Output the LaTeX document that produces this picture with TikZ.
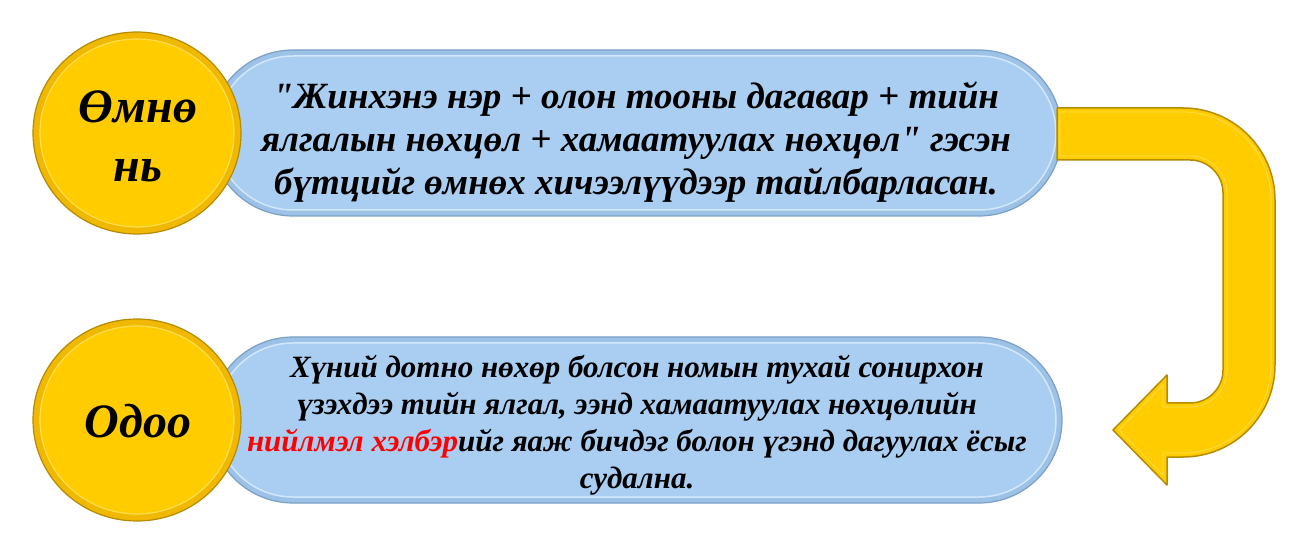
\documentclass[tikz,border=0pt]{standalone}
\usepackage{fontspec}
\setmainfont{Liberation Serif}[Ligatures=TeXOff]
\usetikzlibrary{shapes.geometric,shapes.misc}
\definecolor{pillfill}{HTML}{A9CEF2}
\definecolor{pilledge}{HTML}{7C9FC4}
\definecolor{pillring}{HTML}{9DC2E8}
\definecolor{pillhi}{HTML}{D2E7FA}
\definecolor{goldfill}{HTML}{FFCC00}
\definecolor{goldring}{HTML}{F0B800}
\definecolor{goldedge}{HTML}{B58B00}
\definecolor{goldhi}{HTML}{FFDD4D}
\definecolor{redtext}{HTML}{FF0000}
\begin{document}
\begin{tikzpicture}[x=1pt,y=-1pt,
  pillouter/.style={rounded rectangle, fill=pillring, draw=pilledge, line width=1.2pt,
    minimum width=852pt, minimum height=166pt, inner sep=0pt},
  pillinner/.style={rounded rectangle, fill=pillfill, draw=pillhi, line width=1.5pt,
    minimum width=840pt, minimum height=154pt, inner sep=0pt},
  coinouter/.style={ellipse, fill=goldring, draw=goldedge, line width=1.2pt,
    minimum width=208pt, minimum height=202pt, inner sep=0pt},
  coininner/.style={ellipse, fill=goldfill, draw=goldhi, line width=1.2pt,
    minimum width=194pt, minimum height=188pt, inner sep=0pt},
  cointext/.style={align=center, font=\fontsize{48}{59}\selectfont\bfseries\itshape, inner sep=0pt},
  toptext/.style={align=center, font=\fontsize{37}{43}\selectfont\bfseries\itshape, inner sep=0pt},
  bottext/.style={align=center, font=\fontsize{31}{37}\selectfont\bfseries\itshape, inner sep=0pt},
  bigarrow/.style={fill=goldfill, draw=goldedge, line width=1.5pt, line join=round},
  arrowhi/.style={draw=goldhi, line width=0.8pt, line join=round}
]
\useasboundingbox (0,0) rectangle (1302,553);

% pills
\node[pillouter] (toppill) at (636,133) {};
\node[pillinner] (toppillin) at (toppill.center) {};
\node[pillouter] (botpill) at (636,420) {};
\node[pillinner] (botpillin) at (botpill.center) {};

% U-shaped arrow from the top pill round to the bottom pill
\coordinate (arrstart) at (1057,108);
\coordinate (arrtip) at (1113,430);
\filldraw[bigarrow] (arrstart) [rounded corners=92pt] -- (1275,108) -- (1275,457)
  [sharp corners] -- (1167,457) -- (1167,485) -- (arrtip) -- (1167,375) -- (1167,403)
  [rounded corners=33pt] -- (1223,403) -- (1223,160) [sharp corners] -- (1057,160) -- cycle;
\draw[arrowhi] (1060,112) [rounded corners=88pt] -- (1271,112) -- (1271,453)
  [sharp corners] -- (1163,453) -- (1163,475) -- (1119,430) -- (1163,385) -- (1163,407)
  [rounded corners=37pt] -- (1227,407) -- (1227,156) [sharp corners] -- (1060,156) -- cycle;

% coins
\node[coinouter] (topcoin) at (137,133) {};
\node[coininner] (topcoinin) at (topcoin.center) {};
\node[coinouter] (botcoin) at (137,420) {};
\node[coininner] (botcoinin) at (botcoin.center) {};

\node[cointext] (toplabel) at (138,136) {Өмнө\\нь};
\node[cointext] (botlabel) at (138,421) {Одоо};

\node[toptext] (topbody) at (636,142) {"Жинхэнэ нэр + олон тооны дагавар + тийн\\ялгалын нөхцөл + хамаатуулах нөхцөл" гэсэн\\бүтцийг өмнөх хичээлүүдээр тайлбарласан.};
\node[bottext] (botbody) at (637,425) {Хүний дотно нөхөр болсон номын тухай сонирхон\\үзэхдээ тийн ялгал, ээнд хамаатуулах нөхцөлийн\\{\color{redtext}нийлмэл хэлбэр}ийг яаж бичдэг болон үгэнд дагуулах ёсыг\\судална.};
\end{tikzpicture}
\end{document}
